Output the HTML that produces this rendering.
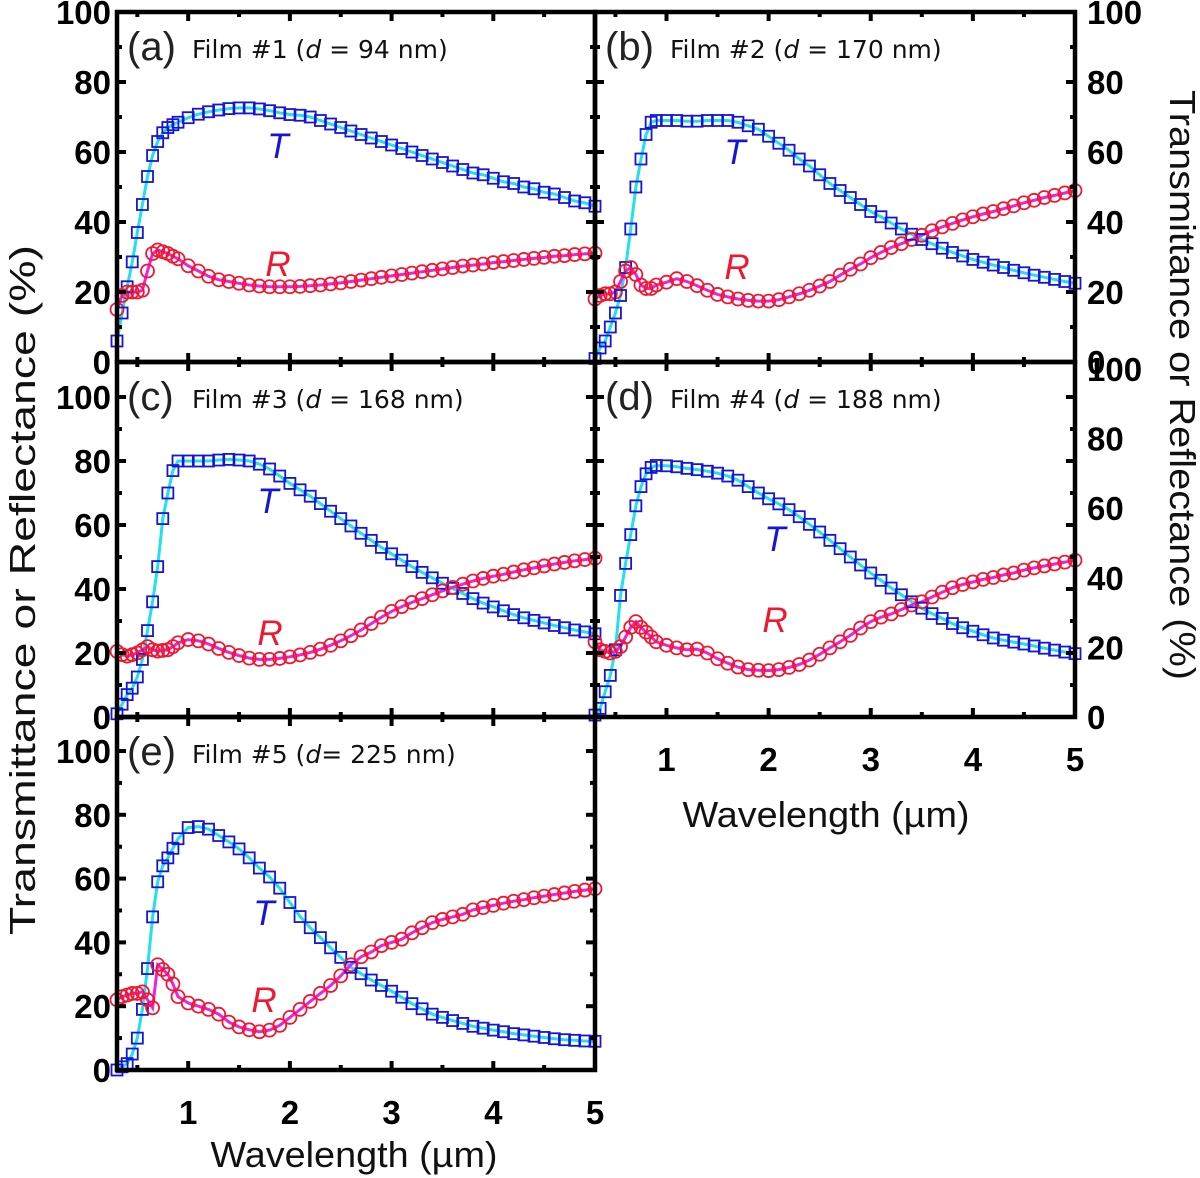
<!DOCTYPE html>
<html><head><meta charset="utf-8"><style>
html,body{margin:0;padding:0;background:#fff;}
svg{display:block;font-family:"Liberation Sans",Arial,sans-serif;}
.tl{font-weight:bold;font-size:33px;fill:#000;}
.pl{font-size:40px;fill:#222;}
.ft{font-family:"DejaVu Sans","Liberation Sans",sans-serif;font-size:25px;fill:#111;}
.at{font-size:36px;fill:#111;}
</style></head><body>
<svg id="chart" width="1200" height="1178" viewBox="0 0 1200 1178" xmlns="http://www.w3.org/2000/svg">
<g id="lines"></g>
<g id="marks"></g>
<g id="frames"></g>
<g id="texts"></g>
<text class="at" x="354" y="1167" text-anchor="middle" textLength="287" lengthAdjust="spacingAndGlyphs">Wavelength (µm)</text>
<text class="at" x="826" y="827" text-anchor="middle" textLength="287" lengthAdjust="spacingAndGlyphs">Wavelength (µm)</text>
<text class="at" transform="translate(35,590) rotate(-90)" text-anchor="middle" textLength="690" lengthAdjust="spacingAndGlyphs">Transmittance or Reflectance (%)</text>
<text class="at" transform="translate(1170,385) rotate(90)" text-anchor="middle" textLength="590" lengthAdjust="spacingAndGlyphs">Transmittance or Reflectance (%)</text>
</svg>
<script>
const wavelengths = [0.3,0.35,0.4,0.45,0.5,0.55,0.6,0.65,0.7,0.75,0.8,0.85,0.9,1.0,1.1,1.2,1.3,1.4,1.5,1.6,1.7,1.8,1.9,2.0,2.1,2.2,2.3,2.4,2.5,2.6,2.7,2.8,2.9,3.0,3.1,3.2,3.3,3.4,3.5,3.6,3.7,3.8,3.9,4.0,4.1,4.2,4.3,4.4,4.5,4.6,4.7,4.8,4.9,5.0];
const film1T = [6,14,21.5,28.6,37,45,53,59,63,65.5,67,67.8,68.5,69.8,70.8,71.5,72,72.4,72.6,72.6,72.3,71.8,71.2,70.7,70.5,70,69,68,67,66,65,64,63,62,61,60,59,58,57,56,55,54,53.5,52.5,51.5,51,50,49.5,48.5,48,47,46,45.5,44.5];
const film1R = [15,19,20,20,20,20.5,26,31,32,31.5,31,30.2,29.5,27.5,26,24.5,23.5,23,22.5,22,21.7,21.5,21.5,21.5,21.6,21.8,22,22.3,22.6,23,23.4,23.8,24.2,24.6,25,25.4,25.8,26.2,26.6,27,27.4,27.7,28,28.4,28.7,29,29.3,29.6,29.9,30.2,30.4,30.7,30.9,31.1];
const film2T = [1,4,6,10,14,19,27,38,50,58,65,68.5,69,69,69,68.8,68.8,69,69,69,68.5,67.5,66.5,64.5,62.5,60.5,58,56,53.5,51,49,47,45,43,41.5,39.7,38,36.5,35,33.8,32.5,31.3,30.3,29.3,28.5,27.7,27,26.2,25.5,24.8,24.2,23.6,23,22.5];
const film2R = [18,19,19.5,19.5,20,23,26,27,25,22,21,21,22,22.8,23.8,23,21.8,20.5,19.3,18.6,18,17.6,17.4,17.4,17.8,18.6,19.5,20.5,21.7,23,24.8,26.5,28,29.8,31.3,32.7,33.8,35,36.2,37.5,38.6,39.6,40.6,41.5,42.3,43,43.8,44.6,45.5,46.2,47,47.6,48.3,49];
const film3T = [1,4,7,9,12.5,18,27,36,47,62,70,77,80,80,80,80,80.3,80.5,80.3,80,79,77.5,75.3,73,71,69,66.7,64.3,62,59.7,57.4,55.2,53,51,49,47,45.2,43.5,41.8,40.2,38.6,37,35.6,34.4,33.2,32,31,30.2,29.4,28.6,27.9,27.2,26.6,26];
const film3R = [20.5,19.5,19,19.5,20,21,22,21,20.6,20.8,21,22,23.2,24.2,23.8,22.8,21.4,20.2,19.2,18.4,18,18,18.3,18.8,19.4,20.2,21.2,22.4,23.8,25.4,27.2,29.2,31.2,33,34.5,35.8,37,38.2,39.4,40.5,41.5,42.5,43.3,44,44.6,45.3,46,46.6,47.2,47.8,48.3,48.8,49.2,49.6];
const film4T = [0.6,2.7,7.9,13,21,38,48,57,66,72,76,78,78.6,78.5,78.2,77.7,77.3,76.8,76.2,75.3,74,72,70,68.2,66.6,64.8,62.6,60.2,57.8,55.2,52.6,50,47.5,45,42.7,40.3,38.2,36,34,32.3,30.8,29.2,27.9,26.8,25.7,24.7,24,23.4,22.8,22.2,21.5,20.9,20.3,19.8];
const film4R = [23.5,21,20.5,20,20.5,22,25,28,29.8,28,26.5,25,23.5,22.4,21.6,21,21.2,20,18.2,16.8,15.6,14.8,14.6,14.5,14.8,15.5,16.4,17.8,19.6,21.6,23.5,25.5,27.8,29.8,31.2,32.2,33.6,35,36,37.5,39,40.4,41.4,42.2,43,43.6,44.4,45,45.9,46.6,47.2,47.8,48.4,49];
const film5T = [0,1,2,5,10,19,31.8,48,59,64,66.5,69.5,72.5,76,76.3,75.5,73.5,71.5,69.3,66.5,63.3,60.5,57,52.5,48.1,44.6,41.5,38.3,35.3,32.2,30.2,28.2,26.5,24.7,22.8,20.8,19.2,17.5,16.5,15.5,14.6,13.7,13.1,12.5,12,11.4,11,10.6,10.2,9.8,9.5,9.3,9.1,9];
const film5R = [22,23,23.5,24,24,24.5,22,19.5,33,31.5,30,27,23,21,20,19,17.5,15,13.5,12.6,12,12.5,14,16.5,19,21.5,24,26.5,29.5,33,35.5,37,39,40,41,43,44.6,46.2,47.2,48,48.8,50.2,50.9,51.6,52.3,52.9,53.4,54,54.5,55,55.5,56,56.4,56.8];
const yTickValues = [0,20,40,60,80,100];
const xTickValues = [1,2,3,4,5];
const xTickLabels = ["1","2","3","4","5"];

const NS="http://www.w3.org/2000/svg";
function mk(parent,tag,attrs){const e=document.createElementNS(NS,tag);for(const k in attrs)e.setAttribute(k,attrs[k]);parent.appendChild(e);return e;}
const panels=[
 {id:'a',T:film1T,R:film1R,x0:117,x1:595,y0:12,yb:362,k:3.5,lab:'(a)',film:['Film #1 (','d',' = 94 nm)'],tx:278,ty:158,rx:278,ry:276,left:true,right:false},
 {id:'b',T:film2T,R:film2R,x0:595,x1:1075,y0:12,yb:362,k:3.5,lab:'(b)',film:['Film #2 (','d',' = 170 nm)'],tx:735,ty:164,rx:737,ry:279,left:false,right:true,rk:3.5},
 {id:'c',T:film3T,R:film3R,x0:117,x1:595,y0:362,yb:717,k:3.2,lab:'(c)',film:['Film #3 (','d',' = 168 nm)'],tx:268,ty:513,rx:270,ry:645,left:true,right:false},
 {id:'d',T:film4T,R:film4R,x0:595,x1:1075,y0:362,yb:717,k:3.2,lab:'(d)',film:['Film #4 (','d',' = 188 nm)'],tx:775,ty:551,rx:775,ry:632,left:false,right:true,rk:3.48,xlabels:true},
 {id:'e',T:film5T,R:film5R,x0:117,x1:595,y0:717,yb:1070,k:3.19,lab:'(e)',film:['Film #5 (','d','= 225 nm)'],tx:264,ty:925,rx:264,ry:1012,left:true,right:false,xlabels:true}
];
const lines=document.getElementById('lines'),marks=document.getElementById('marks'),frames=document.getElementById('frames'),texts=document.getElementById('texts');
panels.forEach(p=>{
 const sx=v=>p.x0+(v-0.3)/(5-0.3)*(p.x1-p.x0);
 const sy=v=>p.yb-v*p.k;
 const g=mk(marks,'g',{});
 
 
 let dT='',dR='';
 wavelengths.forEach((w,i)=>{dT+=(i?'L':'M')+sx(w).toFixed(1)+' '+sy(p.T[i]).toFixed(1);dR+=(i?'L':'M')+sx(w).toFixed(1)+' '+sy(p.R[i]).toFixed(1);});
 const lt=mk(lines,'path',{d:dT,fill:'none',stroke:'#22e0f0','stroke-width':3});
 
 
 const lr=mk(lines,'path',{d:dR,fill:'none',stroke:'#f020e0','stroke-width':3});
 
 
 wavelengths.forEach((w,i)=>{
  const s=mk(g,'rect',{x:sx(w)-5.5,y:sy(p.T[i])-5.5,width:11,height:11,fill:'none',stroke:'#1515d8','stroke-width':1.8});
  
  
  const c=mk(g,'circle',{cx:sx(w),cy:sy(p.R[i]),r:6.5,fill:'none',stroke:'#f01830','stroke-width':1.8});
  
  
 });
 const fr=mk(frames,'rect',{x:p.x0,y:p.y0,width:p.x1-p.x0,height:p.yb-p.y0,fill:'none',stroke:'#000','stroke-width':4.5});
 
 
 for(let v=0.5;v<=4.6;v+=0.5){const X=sx(v);const L=(Math.abs(v-Math.round(v))<0.01)?9:5;
  mk(frames,'line',{x1:X,x2:X,y1:p.yb,y2:p.yb-L,stroke:'#000','stroke-width':4});
  mk(frames,'line',{x1:X,x2:X,y1:p.y0,y2:p.y0+L,stroke:'#000','stroke-width':4});}
 for(let v=10;v*p.k<p.yb-p.y0-4;v+=10){const Y=sy(v);const L=(v%20===0)?9:5;
  mk(frames,'line',{x1:p.x0,x2:p.x0+L,y1:Y,y2:Y,stroke:'#000','stroke-width':4});
  mk(frames,'line',{x1:p.x1,x2:p.x1-L,y1:Y,y2:Y,stroke:'#000','stroke-width':4});}
 if(p.left){yTickValues.forEach(v=>{const t=mk(texts,'text',{x:p.x0-6,y:sy(v)+12,'text-anchor':'end',class:'tl'});t.textContent=String(v);
  
  });}
 if(p.right){yTickValues.forEach(v=>{const t=mk(texts,'text',{x:p.x1+12,y:p.yb-v*p.rk+12,'text-anchor':'start',class:'tl'});t.textContent=String(v);
  
  });}
 if(p.xlabels){xTickValues.forEach((v,i)=>{const t=mk(texts,'text',{x:sx(v),y:p.yb+54,'text-anchor':'middle',class:'tl'});t.textContent=xTickLabels[i];
  
  });}
 const pl=mk(texts,'text',{x:p.x0+10,y:p.y0+48,class:'pl'});pl.textContent=p.lab;
 
 
 const ft=mk(texts,'text',{x:p.x0+75,y:p.y0+46,class:'ft'});
 
 
 const a=mk(ft,'tspan',{});a.textContent=p.film[0];
 const b=mk(ft,'tspan',{'font-style':'italic'});b.textContent=p.film[1];
 const c=mk(ft,'tspan',{});c.textContent=p.film[2];
 const tl=mk(texts,'text',{x:p.tx,y:p.ty,'text-anchor':'middle','font-style':'italic','font-size':'35px',fill:'#1515d8'});tl.textContent='T';
 
 
 const rl=mk(texts,'text',{x:p.rx,y:p.ry,'text-anchor':'middle','font-style':'italic','font-size':'35px',fill:'#f01830'});rl.textContent='R';
 
 
});
</script>
</body></html>
